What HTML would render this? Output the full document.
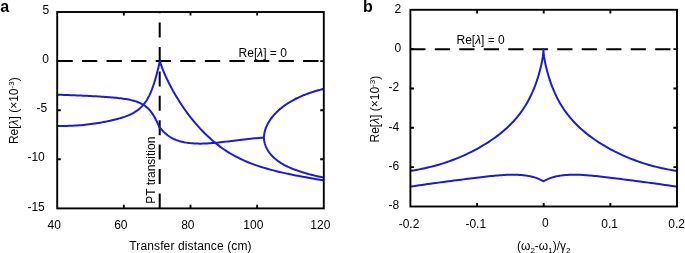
<!DOCTYPE html>
<html><head><meta charset="utf-8"><style>html,body{margin:0;padding:0;background:#fff;overflow:hidden}svg{display:block}</style></head><body>
<svg width="685" height="253" viewBox="0 0 685 253">
<rect width="685" height="253" fill="#fff"/>
<path d="M57.43,61.10H323.80" stroke="#000" stroke-width="2" stroke-dasharray="15.3 9.27" fill="none"/>
<path d="M159.7,208.40V12.00" stroke="#000" stroke-width="2" stroke-dasharray="15 9.4" fill="none"/>
<path d="M57.40,125.88L59.70,125.92L61.97,125.94L64.21,125.94L66.43,125.91L68.63,125.87L70.79,125.80L72.93,125.71L75.05,125.60L77.14,125.48L79.20,125.33L81.24,125.17L83.25,124.99L85.24,124.79L87.20,124.58L89.13,124.35L91.04,124.11L92.92,123.85L94.78,123.59L96.61,123.30L98.41,123.01L100.19,122.71L101.94,122.39L103.67,122.07L105.37,121.73L107.04,121.39L108.69,121.04L110.31,120.68L111.91,120.31L113.48,119.94L115.02,119.56L116.54,119.18L118.03,118.79L119.50,118.38L120.94,117.97L122.36,117.54L123.74,117.09L125.11,116.63L126.44,116.14L127.75,115.63L129.04,115.09L130.30,114.53L131.53,113.93L132.74,113.31L133.92,112.64L135.07,111.95L136.20,111.21L137.31,110.43L138.38,109.61L139.43,108.75L140.46,107.83L141.46,106.87L142.43,105.85L143.38,104.78L144.30,103.66L145.20,102.47L146.07,101.23L146.91,99.92L147.73,98.54L148.52,97.10L149.29,95.59L150.03,94.02L150.74,92.39L151.43,90.72L152.09,89.01L152.72,87.28L153.33,85.52L153.92,83.76L154.48,82.00L155.01,80.24L155.51,78.51L156.00,76.81L156.45,75.14L156.88,73.52L157.28,71.95L157.66,70.45L158.01,69.02L158.33,67.68L158.63,66.43L158.90,65.28L159.15,64.24L159.37,63.32L159.56,62.53L159.73,61.88L159.88,61.38L159.99,61.03L160.08,60.85L160.15,60.85L160.19,61.03L160.20,61.40L160.20,61.40L160.22,61.67L160.28,62.04L160.39,62.51L160.53,63.06L160.72,63.71L160.94,64.44L161.21,65.25L161.52,66.14L161.87,67.11L162.27,68.16L162.70,69.28L163.17,70.47L163.69,71.72L164.25,73.04L164.85,74.42L165.49,75.85L166.17,77.34L166.89,78.89L167.66,80.48L168.46,82.13L169.31,83.81L170.20,85.54L171.13,87.31L172.10,89.11L173.11,90.94L174.16,92.81L175.26,94.70L176.39,96.62L177.57,98.56L178.79,100.52L180.05,102.50L181.35,104.49L182.69,106.49L184.08,108.50L185.50,110.52L186.97,112.54L188.48,114.57L190.02,116.59L191.61,118.61L193.25,120.63L194.92,122.63L196.63,124.63L198.39,126.61L200.19,128.58L202.02,130.53L203.90,132.46L205.82,134.36L207.79,136.24L209.79,138.09L211.83,139.91L213.92,141.70L216.05,143.45L218.22,145.16L220.43,146.84L222.68,148.47L224.97,150.05L227.30,151.59L229.68,153.07L232.10,154.50L234.55,155.88L237.05,157.20L239.59,158.48L242.18,159.70L244.80,160.87L247.46,162.00L250.17,163.08L252.92,164.12L255.70,165.12L258.53,166.08L261.40,167.01L264.32,167.90L267.27,168.76L270.26,169.59L273.30,170.39L276.38,171.17L279.50,171.92L282.66,172.65L285.86,173.36L289.10,174.06L292.39,174.73L295.71,175.40L299.08,176.05L302.49,176.69L305.93,177.32L309.42,177.95L312.96,178.58L316.53,179.20L320.14,179.82L323.80,180.45" stroke="#1c1ccc" stroke-width="2.0" fill="none" stroke-linejoin="round"/>
<path d="M57.20,94.68L59.49,94.77L61.76,94.85L64.00,94.93L66.22,95.01L68.40,95.09L70.57,95.18L72.70,95.26L74.82,95.34L76.90,95.43L78.96,95.51L80.99,95.60L83.00,95.68L84.98,95.77L86.94,95.86L88.87,95.96L90.77,96.05L92.65,96.15L94.50,96.25L96.33,96.35L98.13,96.45L99.91,96.56L101.65,96.67L103.38,96.79L105.07,96.90L106.74,97.02L108.39,97.15L110.01,97.28L111.60,97.41L113.17,97.55L114.71,97.69L116.23,97.84L117.72,97.99L119.18,98.15L120.62,98.32L122.03,98.50L123.42,98.69L124.78,98.89L126.11,99.11L127.42,99.33L128.70,99.58L129.96,99.84L131.19,100.11L132.39,100.41L133.57,100.72L134.72,101.06L135.85,101.41L136.95,101.79L138.03,102.20L139.08,102.62L140.10,103.08L141.10,103.56L142.07,104.07L143.01,104.61L143.93,105.18L144.83,105.78L145.69,106.42L146.54,107.09L147.35,107.79L148.14,108.53L148.91,109.31L149.64,110.12L150.36,110.96L151.04,111.83L151.70,112.72L152.34,113.62L152.95,114.54L153.53,115.46L154.09,116.38L154.62,117.30L155.12,118.21L155.60,119.12L156.06,120.00L156.48,120.87L156.89,121.70L157.26,122.51L157.61,123.28L157.93,124.01L158.23,124.70L158.50,125.34L158.75,125.93L158.97,126.45L159.17,126.92L159.33,127.31L159.48,127.63L159.59,127.88L159.68,128.04L159.75,128.12L159.79,128.11L159.80,128.00L159.80,128.00L159.81,127.90L159.85,127.85L159.92,127.85L160.01,127.90L160.13,127.99L160.27,128.12L160.44,128.29L160.64,128.50L160.87,128.75L161.12,129.03L161.39,129.34L161.69,129.67L162.02,130.04L162.38,130.42L162.76,130.83L163.17,131.25L163.60,131.70L164.06,132.15L164.55,132.62L165.06,133.10L165.60,133.58L166.17,134.07L166.76,134.56L167.38,135.06L168.02,135.55L168.69,136.03L169.39,136.51L170.11,136.98L170.86,137.44L171.64,137.88L172.44,138.31L173.27,138.72L174.13,139.12L175.01,139.50L175.91,139.87L176.85,140.22L177.81,140.55L178.80,140.87L179.81,141.17L180.85,141.46L181.91,141.72L183.01,141.97L184.12,142.21L185.27,142.43L186.44,142.62L187.64,142.81L188.86,142.97L190.11,143.12L191.38,143.25L192.69,143.36L194.02,143.45L195.37,143.53L196.75,143.58L198.16,143.62L199.59,143.64L201.05,143.64L202.54,143.62L204.05,143.58L205.59,143.52L207.16,143.45L208.75,143.35L210.37,143.24L212.01,143.11L213.68,142.97L215.38,142.81L217.10,142.64L218.85,142.45L220.63,142.26L222.43,142.05L224.26,141.84L226.11,141.62L228.00,141.39L229.90,141.16L231.84,140.92L233.80,140.69L235.78,140.44L237.80,140.20L239.83,139.96L241.90,139.72L243.99,139.48L246.11,139.24L248.25,139.01L250.42,138.79L252.62,138.57L254.84,138.36L257.09,138.15L259.37,137.96L261.67,137.78L264.00,137.61" stroke="#1c1ccc" stroke-width="2.0" fill="none" stroke-linejoin="round"/>
<path d="M264.00,137.60L264.01,137.01L264.03,136.42L264.07,135.83L264.12,135.23L264.19,134.63L264.27,134.02L264.37,133.41L264.48,132.80L264.61,132.19L264.75,131.57L264.91,130.95L265.09,130.33L265.28,129.70L265.48,129.08L265.70,128.45L265.93,127.82L266.18,127.19L266.45,126.56L266.73,125.93L267.02,125.29L267.33,124.66L267.65,124.02L267.99,123.39L268.35,122.75L268.72,122.12L269.10,121.48L269.50,120.85L269.92,120.22L270.35,119.58L270.79,118.95L271.26,118.32L271.73,117.69L272.22,117.06L272.73,116.44L273.25,115.81L273.78,115.19L274.34,114.57L274.90,113.95L275.48,113.34L276.08,112.73L276.69,112.12L277.32,111.51L277.96,110.91L278.62,110.31L279.29,109.72L279.97,109.12L280.68,108.54L281.39,107.95L282.13,107.37L282.87,106.80L283.64,106.23L284.41,105.66L285.21,105.10L286.01,104.54L286.84,103.99L287.68,103.45L288.53,102.90L289.40,102.37L290.28,101.83L291.18,101.31L292.09,100.79L293.02,100.27L293.96,99.76L294.92,99.26L295.90,98.76L296.89,98.27L297.89,97.78L298.91,97.30L299.94,96.83L300.99,96.36L302.06,95.90L303.14,95.45L304.23,95.00L305.34,94.56L306.47,94.13L307.61,93.71L308.76,93.29L309.93,92.88L311.12,92.47L312.32,92.08L313.53,91.69L314.76,91.31L316.01,90.93L317.27,90.57L318.55,90.21L319.84,89.86L321.14,89.52L322.46,89.19L323.80,88.87" stroke="#1c1ccc" stroke-width="2.0" fill="none" stroke-linejoin="round"/>
<path d="M264.00,137.60L264.01,138.16L264.03,138.72L264.07,139.28L264.12,139.84L264.19,140.41L264.27,140.98L264.37,141.54L264.48,142.11L264.61,142.68L264.75,143.25L264.91,143.82L265.09,144.38L265.28,144.95L265.48,145.52L265.70,146.09L265.93,146.66L266.18,147.22L266.45,147.79L266.73,148.35L267.02,148.91L267.33,149.47L267.65,150.03L267.99,150.59L268.35,151.14L268.72,151.69L269.10,152.24L269.50,152.79L269.92,153.33L270.35,153.87L270.79,154.41L271.26,154.94L271.73,155.47L272.22,155.99L272.73,156.52L273.25,157.03L273.78,157.54L274.34,158.05L274.90,158.56L275.48,159.05L276.08,159.55L276.69,160.03L277.32,160.52L277.96,160.99L278.62,161.46L279.29,161.93L279.97,162.39L280.68,162.84L281.39,163.29L282.13,163.73L282.87,164.16L283.64,164.59L284.41,165.01L285.21,165.43L286.01,165.85L286.84,166.25L287.68,166.66L288.53,167.05L289.40,167.45L290.28,167.83L291.18,168.22L292.09,168.60L293.02,168.97L293.96,169.34L294.92,169.70L295.90,170.06L296.89,170.42L297.89,170.77L298.91,171.12L299.94,171.47L300.99,171.81L302.06,172.14L303.14,172.48L304.23,172.80L305.34,173.13L306.47,173.45L307.61,173.77L308.76,174.09L309.93,174.40L311.12,174.71L312.32,175.02L313.53,175.32L314.76,175.62L316.01,175.92L317.27,176.22L318.55,176.51L319.84,176.80L321.14,177.09L322.46,177.38L323.80,177.66" stroke="#1c1ccc" stroke-width="2.0" fill="none" stroke-linejoin="round"/>
<path d="M123.85,208.40V204.80M123.85,12.00V15.60M190.50,208.40V204.80M190.50,12.00V15.60M257.15,208.40V204.80M257.15,12.00V15.60M57.20,61.10H60.80M323.80,61.10H320.20M57.20,110.20H60.80M323.80,110.20H320.20M57.20,159.30H60.80M323.80,159.30H320.20" stroke="#000" stroke-width="1.9" fill="none"/>
<rect x="57.20" y="12.00" width="266.60" height="196.40" stroke="#000" stroke-width="1.9" fill="none"/>
<path d="M410.3,49.14H677.00" stroke="#000" stroke-width="2" stroke-dasharray="15.2 9.29" fill="none"/>
<path d="M410.40,170.85L413.37,170.39L416.31,169.89L419.22,169.36L422.09,168.79L424.93,168.19L427.73,167.55L430.51,166.88L433.24,166.18L435.95,165.45L438.62,164.69L441.26,163.90L443.86,163.08L446.43,162.23L448.97,161.36L451.47,160.46L453.94,159.53L456.37,158.58L458.78,157.60L461.14,156.60L463.48,155.58L465.78,154.54L468.05,153.47L470.28,152.38L472.48,151.28L474.65,150.15L476.78,149.01L478.88,147.85L480.95,146.67L482.98,145.47L484.98,144.26L486.94,143.04L488.88,141.80L490.77,140.54L492.64,139.27L494.47,137.97L496.27,136.67L498.03,135.34L499.76,134.00L501.46,132.63L503.12,131.25L504.75,129.85L506.35,128.42L507.91,126.98L509.44,125.51L510.93,124.02L512.39,122.51L513.82,120.98L515.21,119.42L516.57,117.84L517.90,116.23L519.19,114.60L520.45,112.95L521.68,111.26L522.87,109.56L524.03,107.82L525.16,106.06L526.25,104.26L527.31,102.44L528.33,100.60L529.32,98.72L530.28,96.81L531.20,94.88L532.10,92.94L532.95,90.97L533.77,89.00L534.56,87.02L535.32,85.04L536.04,83.06L536.73,81.09L537.39,79.13L538.01,77.18L538.60,75.25L539.15,73.34L539.67,71.45L540.16,69.60L540.61,67.79L541.03,66.01L541.42,64.27L541.77,62.58L542.09,60.95L542.37,59.37L542.63,57.84L542.85,56.39L543.03,54.99L543.18,53.68L543.30,52.43L543.38,51.27L543.43,50.19L543.45,49.20L543.47,50.19L543.52,51.27L543.60,52.43L543.72,53.68L543.87,54.99L544.05,56.39L544.27,57.84L544.53,59.37L544.81,60.95L545.13,62.58L545.48,64.27L545.87,66.01L546.29,67.79L546.74,69.60L547.23,71.45L547.75,73.34L548.30,75.25L548.89,77.18L549.51,79.13L550.17,81.09L550.86,83.06L551.58,85.04L552.34,87.02L553.13,89.00L553.95,90.97L554.80,92.94L555.70,94.88L556.62,96.81L557.58,98.72L558.57,100.60L559.59,102.44L560.65,104.26L561.74,106.06L562.87,107.82L564.03,109.56L565.22,111.26L566.45,112.95L567.71,114.60L569.00,116.23L570.33,117.84L571.69,119.42L573.08,120.98L574.51,122.51L575.97,124.02L577.46,125.51L578.99,126.98L580.55,128.42L582.15,129.85L583.78,131.25L585.44,132.63L587.14,134.00L588.87,135.34L590.63,136.67L592.43,137.97L594.26,139.27L596.13,140.54L598.02,141.80L599.96,143.04L601.92,144.26L603.92,145.47L605.95,146.67L608.02,147.85L610.12,149.01L612.25,150.15L614.42,151.28L616.62,152.38L618.85,153.47L621.12,154.54L623.42,155.58L625.76,156.60L628.12,157.60L630.53,158.58L632.96,159.53L635.43,160.46L637.93,161.36L640.47,162.23L643.04,163.08L645.64,163.90L648.28,164.69L650.95,165.45L653.66,166.18L656.39,166.88L659.17,167.55L661.97,168.19L664.81,168.79L667.68,169.36L670.59,169.89L673.53,170.39L676.50,170.85" stroke="#1c1ccc" stroke-width="2.0" fill="none" stroke-linejoin="round"/>
<path d="M410.40,186.58L413.37,186.15L416.31,185.73L419.22,185.31L422.09,184.90L424.93,184.50L427.73,184.11L430.51,183.73L433.24,183.35L435.95,182.98L438.62,182.62L441.26,182.27L443.86,181.92L446.43,181.58L448.97,181.24L451.47,180.92L453.94,180.60L456.37,180.28L458.78,179.97L461.14,179.67L463.48,179.37L465.78,179.08L468.05,178.79L470.28,178.51L472.48,178.23L474.65,177.96L476.78,177.70L478.88,177.44L480.95,177.19L482.98,176.95L484.98,176.72L486.94,176.50L488.88,176.29L490.77,176.09L492.64,175.90L494.47,175.72L496.27,175.56L498.03,175.40L499.76,175.27L501.46,175.14L503.12,175.03L504.75,174.94L506.35,174.86L507.91,174.80L509.44,174.75L510.93,174.72L512.39,174.71L513.82,174.72L515.21,174.75L516.57,174.79L517.90,174.84L519.19,174.91L520.45,175.00L521.68,175.10L522.87,175.21L524.03,175.33L525.16,175.47L526.25,175.62L527.31,175.78L528.33,175.95L529.32,176.13L530.28,176.32L531.20,176.52L532.10,176.73L532.95,176.95L533.77,177.17L534.56,177.40L535.32,177.64L536.04,177.88L536.73,178.13L537.39,178.38L538.01,178.63L538.60,178.87L539.15,179.12L539.67,179.35L540.16,179.59L540.61,179.81L541.03,180.02L541.42,180.22L541.77,180.41L542.09,180.58L542.37,180.73L542.63,180.86L542.85,180.97L543.03,181.06L543.18,181.13L543.30,181.16L543.38,181.17L543.43,181.15L543.45,181.10L543.47,181.15L543.52,181.17L543.60,181.16L543.72,181.13L543.87,181.06L544.05,180.97L544.27,180.86L544.53,180.73L544.81,180.58L545.13,180.41L545.48,180.22L545.87,180.02L546.29,179.81L546.74,179.59L547.23,179.35L547.75,179.12L548.30,178.87L548.89,178.63L549.51,178.38L550.17,178.13L550.86,177.88L551.58,177.64L552.34,177.40L553.13,177.17L553.95,176.95L554.80,176.73L555.70,176.52L556.62,176.32L557.58,176.13L558.57,175.95L559.59,175.78L560.65,175.62L561.74,175.47L562.87,175.33L564.03,175.21L565.22,175.10L566.45,175.00L567.71,174.91L569.00,174.84L570.33,174.79L571.69,174.75L573.08,174.72L574.51,174.71L575.97,174.72L577.46,174.75L578.99,174.80L580.55,174.86L582.15,174.94L583.78,175.03L585.44,175.14L587.14,175.27L588.87,175.40L590.63,175.56L592.43,175.72L594.26,175.90L596.13,176.09L598.02,176.29L599.96,176.50L601.92,176.72L603.92,176.95L605.95,177.19L608.02,177.44L610.12,177.70L612.25,177.96L614.42,178.23L616.62,178.51L618.85,178.79L621.12,179.08L623.42,179.37L625.76,179.67L628.12,179.97L630.53,180.28L632.96,180.60L635.43,180.92L637.93,181.24L640.47,181.58L643.04,181.92L645.64,182.27L648.28,182.62L650.95,182.98L653.66,183.35L656.39,183.73L659.17,184.11L661.97,184.50L664.81,184.90L667.68,185.31L670.59,185.73L673.53,186.15L676.50,186.58" stroke="#1c1ccc" stroke-width="2.0" fill="none" stroke-linejoin="round"/>
<path d="M477.05,206.50V202.90M477.05,9.80V13.40M543.70,206.50V202.90M543.70,9.80V13.40M610.35,206.50V202.90M610.35,9.80V13.40M410.40,49.14H414.00M677.00,49.14H673.40M410.40,88.48H414.00M677.00,88.48H673.40M410.40,127.82H414.00M677.00,127.82H673.40M410.40,167.16H414.00M677.00,167.16H673.40" stroke="#000" stroke-width="1.9" fill="none"/>
<rect x="410.40" y="9.80" width="266.60" height="196.70" stroke="#000" stroke-width="1.9" fill="none"/>
<text x="0.2" y="12" font-size="16" font-family="Liberation Sans, Arial, sans-serif" font-weight="bold">a</text>
<text x="363.0" y="12" font-size="16" font-family="Liberation Sans, Arial, sans-serif" font-weight="bold">b</text>
<text x="42.4" y="13.6" font-size="12" font-family="Liberation Sans, Arial, sans-serif" >5</text>
<text x="42.3" y="62.6" font-size="12" font-family="Liberation Sans, Arial, sans-serif" >0</text>
<text x="36.6" y="112.1" font-size="12" font-family="Liberation Sans, Arial, sans-serif" >-5</text>
<text x="27.4" y="161.4" font-size="12" font-family="Liberation Sans, Arial, sans-serif" >-10</text>
<text x="27.4" y="210.5" font-size="12" font-family="Liberation Sans, Arial, sans-serif" >-15</text>
<text x="47.5" y="229.0" font-size="12" font-family="Liberation Sans, Arial, sans-serif" >40</text>
<text x="114.2" y="229.0" font-size="12" font-family="Liberation Sans, Arial, sans-serif" >60</text>
<text x="181.2" y="229.0" font-size="12" font-family="Liberation Sans, Arial, sans-serif" >80</text>
<text x="243.3" y="229.0" font-size="12" font-family="Liberation Sans, Arial, sans-serif" >100</text>
<text x="310.3" y="229.0" font-size="12" font-family="Liberation Sans, Arial, sans-serif" >120</text>
<text x="129.3" y="250.4" font-size="12" font-family="Liberation Sans, Arial, sans-serif" textLength="122.2" lengthAdjust="spacing">Transfer distance (cm)</text>
<text x="238.6" y="56.9" font-size="12" font-family="Liberation Sans, Arial, sans-serif" >Re[<tspan font-style="italic">λ</tspan>] = 0</text>
<text transform="translate(155.4,203.8) rotate(-90)" font-size="12" font-family="Liberation Sans, Arial, sans-serif">PT transition</text>
<text transform="translate(18,144.1) rotate(-90)" font-size="12" font-family="Liberation Sans, Arial, sans-serif">Re[<tspan font-style="italic">λ</tspan>] (×10<tspan font-size="8" dy="-3.8">-3</tspan><tspan dy="3.8">)</tspan></text>
<text x="394.6" y="13.1" font-size="12" font-family="Liberation Sans, Arial, sans-serif" >2</text>
<text x="394.6" y="51.6" font-size="12" font-family="Liberation Sans, Arial, sans-serif" >0</text>
<text x="388.4" y="91.3" font-size="12" font-family="Liberation Sans, Arial, sans-serif" >-2</text>
<text x="388.4" y="130.7" font-size="12" font-family="Liberation Sans, Arial, sans-serif" >-4</text>
<text x="388.4" y="170" font-size="12" font-family="Liberation Sans, Arial, sans-serif" >-6</text>
<text x="388.4" y="209.2" font-size="12" font-family="Liberation Sans, Arial, sans-serif" >-8</text>
<text x="398.7" y="227.5" font-size="12" font-family="Liberation Sans, Arial, sans-serif" >-0.2</text>
<text x="465.4" y="227.5" font-size="12" font-family="Liberation Sans, Arial, sans-serif" >-0.1</text>
<text x="541.9" y="227" font-size="12" font-family="Liberation Sans, Arial, sans-serif" >0</text>
<text x="601.3" y="227.5" font-size="12" font-family="Liberation Sans, Arial, sans-serif" >0.1</text>
<text x="668.3" y="227.5" font-size="12" font-family="Liberation Sans, Arial, sans-serif" >0.2</text>
<text x="456.5" y="43.8" font-size="12" font-family="Liberation Sans, Arial, sans-serif" >Re[<tspan font-style="italic">λ</tspan>] = 0</text>
<text transform="translate(379,142.5) rotate(-90)" font-size="12" font-family="Liberation Sans, Arial, sans-serif">Re[<tspan font-style="italic">λ</tspan>] (×10<tspan font-size="8" dy="-3.8">-3</tspan><tspan dy="3.8">)</tspan></text>
<text x="517" y="249.6" font-size="12" font-family="Liberation Sans, Arial, sans-serif">(ω<tspan font-size="8" dy="3">2</tspan><tspan dy="-3">-ω</tspan><tspan font-size="8" dy="3">1</tspan><tspan dy="-3">)/γ</tspan><tspan font-size="8" dy="3">2</tspan></text>
</svg>
</body></html>
